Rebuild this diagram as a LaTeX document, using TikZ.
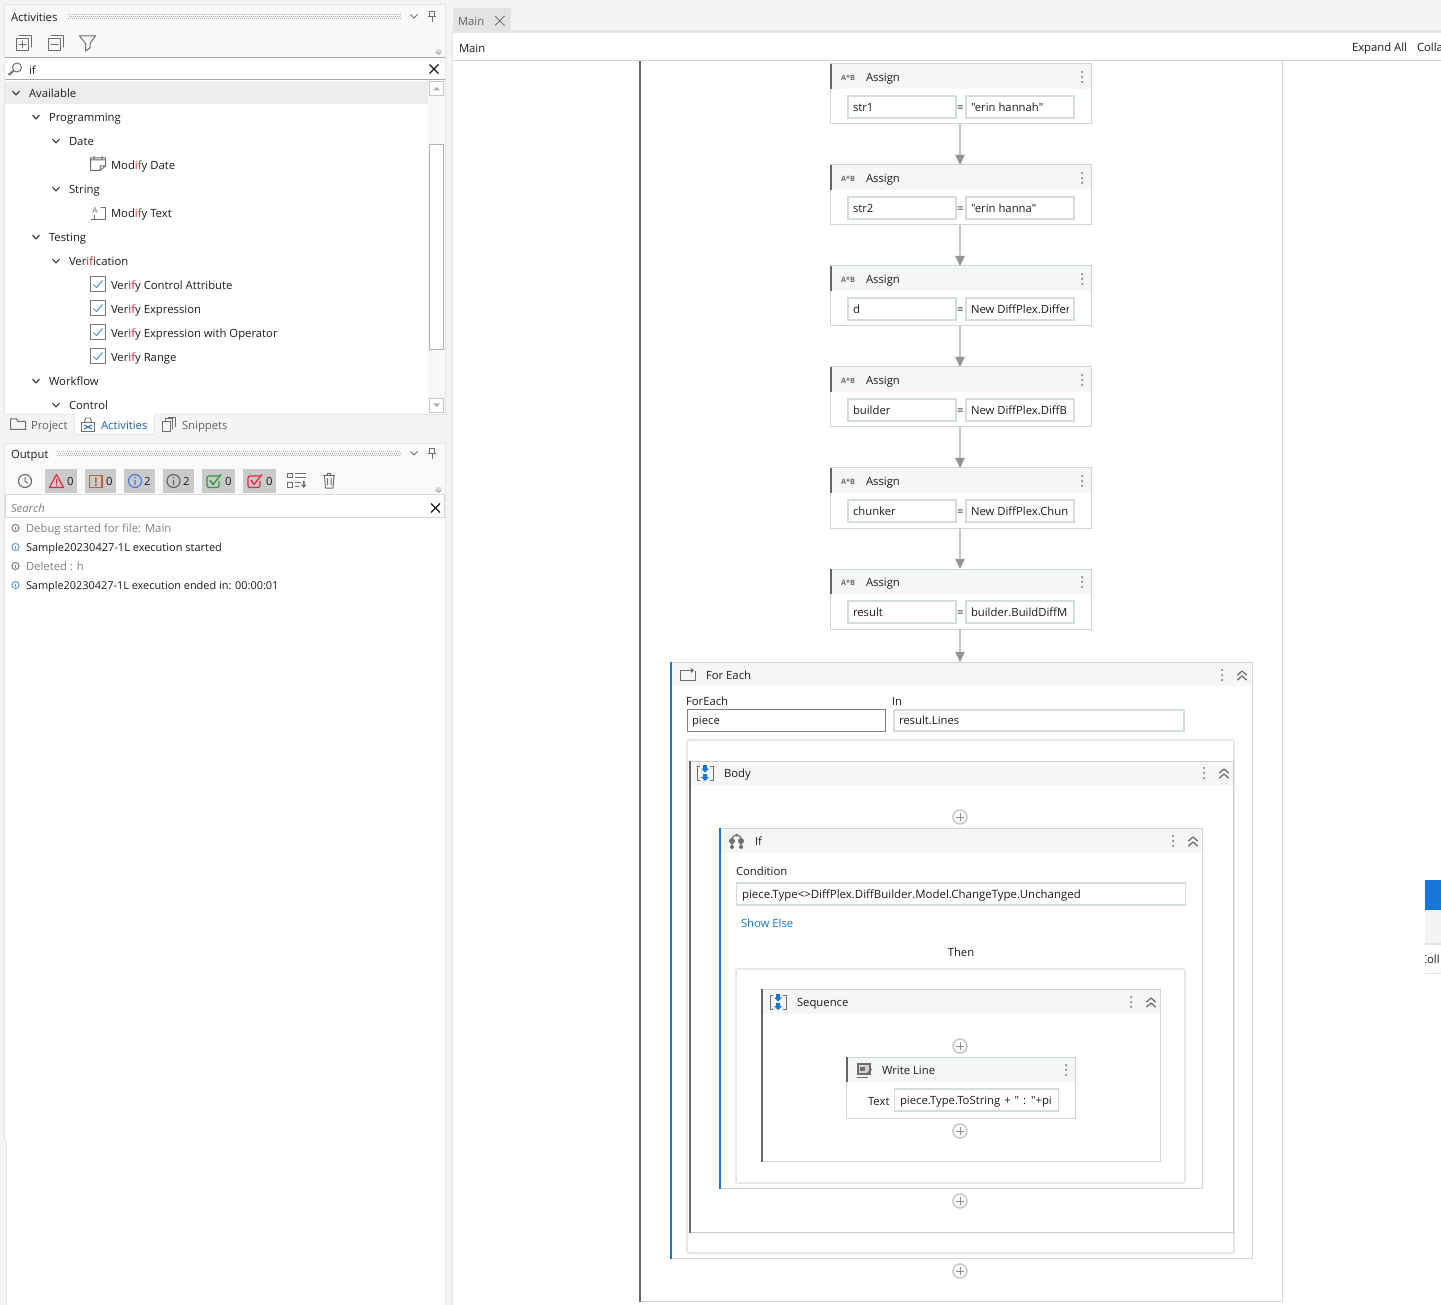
\documentclass[tikz,border=0pt]{standalone}
\usepackage{fontspec}
\setmainfont{Open Sans}
\newfontfamily\plainf{Open Sans}
\usetikzlibrary{arrows.meta}
\definecolor{panelbg}{HTML}{F3F5F5}
\definecolor{hdrbg}{HTML}{F5F6F6}
\definecolor{edge}{HTML}{CDD6DD}
\definecolor{fieldc}{HTML}{D3DCE1}
\definecolor{barD}{HTML}{666666}
\definecolor{barB}{HTML}{1976D2}
\definecolor{ink}{HTML}{1C1C1C}
\definecolor{iconG}{HTML}{6E6E6E}
\definecolor{ifred}{HTML}{C8202A}
\definecolor{rowbg}{HTML}{EDEDED}
\definecolor{badge}{HTML}{C9CACC}
\definecolor{linkB}{HTML}{1B74C9}
\definecolor{innerE}{HTML}{E5E7EA}
\definecolor{icRed}{HTML}{E6283F}
\definecolor{icOrange}{HTML}{B5672F}
\definecolor{icBlue}{HTML}{4A78DC}
\definecolor{icGreen}{HTML}{2F9A3A}
\tikzset{x=1pt,y=-1pt,
  t/.style={inner sep=0pt,outer sep=0pt,anchor=west,text=ink,font=\plainf\fontsize{11.3}{13}\selectfont,text height=8.5pt,text depth=2.5pt,yshift=-2.2pt},
  box/.style={draw=edge,line width=1pt,fill=white,inner sep=0pt,outer sep=0pt,anchor=north west},
  fieldbox/.style={draw=fieldc,line width=1.6pt,fill=white,inner sep=0pt,outer sep=0pt,anchor=north west},
  flow/.style={draw=black!22,line width=2pt,-{Triangle[length=10pt,width=9pt,color=black!42,fill=black!42]}},
  ico/.style={draw=iconG,line width=1pt,line join=round,line cap=round},
}
\newcommand\ifr{\textcolor{ifred}{if}}
\newcommand\kebab[2]{\fill[barD] (#1,#2-5) circle (1) (#1,#2) circle (1) (#1,#2+5) circle (1);}
\newcommand\dchev[2]{\draw[ico,line width=1.2pt,draw=barD] (#1-4.5,#2-1)--(#1,#2-5)--(#1+4.5,#2-1) (#1-4.5,#2+4)--(#1,#2)--(#1+4.5,#2+4);}
\newcommand\plusc[3]{\node[circle,draw=black!22,line width=1.5pt,minimum size=14pt,inner sep=0pt,outer sep=0pt] (#1) at (#2,#3) {};
  \draw[black!45,line width=1pt] (#2-4,#3)--(#2+4,#3) (#2,#3-4)--(#2,#3+4);}
\newcommand\chev[2]{\draw[draw=ink!85,line width=1.1pt] (#1-3.5,#2-1.8)--(#1,#2+1.8)--(#1+3.5,#2-1.8);}
\newcommand\assign[4]{%
 \begin{scope}[shift={(830,#2)}]
  \node[box,minimum width=261pt,minimum height=60pt] (#1) at (0,0) {};
  \fill[hdrbg] (0.5,0.5) rectangle (260.5,25);
  \fill[barD] (0,0) rectangle (1.6,25);
  \node[inner sep=0pt,outer sep=0pt,text=iconG,font=\plainf\fontsize{7.3}{8}\selectfont\bfseries] (#1ic) at (18,13.5) {A*B};
  \node[t] (#1tt) at (36,12) {Assign};
  \kebab{252}{13}
  \node[fieldbox,minimum width=108pt,minimum height=22pt] (#1v) at (18,32) {};
  \node[t] (#1vt) at (23,42) {#3};
  \node[t] (#1eq) at (127,42.5) {=};
  \node[fieldbox,minimum width=108pt,minimum height=22pt] (#1x) at (136,32) {};
  \begin{scope}
   \clip (137,33) rectangle (238.5,53);
   \node[t] (#1xt) at (141,42) {#4};
  \end{scope}
 \end{scope}}
\newcommand\seqicon[2]{\begin{scope}[shift={(#1,#2)}]
  \draw[iconG,line width=1pt] (-5,-7)--(-8,-7)--(-8,7)--(-5,7) (5,-7)--(8,-7)--(8,7)--(5,7);
  \fill[barB] (-2,-8)--(2,-8)--(2,-4.5)--(4,-4.5)--(0,-0.5)--(-4,-4.5)--(-2,-4.5)--cycle;
  \fill[barB] (-2,1)--(2,1)--(2,4)--(4,4)--(0,8)--(-4,4)--(-2,4)--cycle;
 \end{scope}}
\newcommand\checkbox[1]{\draw[draw=barD!90,line width=1.2pt] (90.5,#1-8.5) rectangle (105.5,#1+6.5);
  \draw[draw=barB!80!white,line width=1pt] (93.5,#1-0.5)--(96.5,#1+2.5)--(102.5,#1-4.5);}
\begin{document}
\begin{tikzpicture}
\useasboundingbox (0,0) rectangle (1441,1305);
\fill[white] (0,0) rectangle (1441,1305);
% ---------- left column
\fill[panelbg] (0,0) rectangle (453,1305);
\fill[white] (5,443) rectangle (445,1140);
\fill[white] (7,1140) rectangle (445,1305);
\draw[black!10,line width=1pt] (4.5,443)--(4.5,1140) (6.5,1140)--(6.5,1305) (445.5,443)--(445.5,1305);
% Activities panel
\fill[white] (5,5) rectangle (445,414);
\fill[black!1.5!panelbg!45!white] (5,5) rectangle (445,57);
\draw[black!10,line width=1pt] (4.5,4.5) rectangle (445.5,414.5);
\node[t] (acttitle) at (11,16) {Activities};
\foreach \yy/\s in {14.5/0,16.5/1,18.5/0}{\draw[black!32,line width=1pt,dash pattern=on 1pt off 1pt,dash phase=\s pt] (68,\yy)--(401,\yy);}
\draw[iconG,line width=1pt] (410.5,14.5)--(414,18)--(417.5,14.5);
\draw[iconG,line width=1pt] (429.5,11.5) rectangle (434.5,16.5) (428,17)--(436,17) (432,17)--(432,22);
% top toolbar icons
\draw[ico] (19,35.5)--(31.5,35.5)--(31.5,47) (16.5,38.5) rectangle (28.5,50.5) (22.5,41)--(22.5,48) (19,44.5)--(26,44.5);
\draw[ico] (51,35.5)--(63.5,35.5)--(63.5,47) (48.5,38.5) rectangle (60.5,50.5) (51,44.5)--(58,44.5);
\draw[ico] (79.5,36)--(95.5,36)--(90,43.5)--(90,48)--(85.5,51)--(85.5,43.5)--cycle;
\draw[black!35,line width=.8pt] (436,50)--(441,50) (436,52)--(441,52)--(438.5,54.5)--cycle;
% search
\fill[white] (5,57) rectangle (445,80);
\draw[black!35,line width=1pt] (5,57.5)--(445,57.5) (5,79.5)--(445,79.5);
\draw[iconG,line width=1pt] (17,67.5) circle (4.5);
\draw[iconG,line width=2pt] (13.5,71)--(8.5,75);
\node[t] (searchq) at (29,69) {if};
\draw[ink,line width=1.2pt] (429.5,64.5)--(438.5,73.5) (438.5,64.5)--(429.5,73.5);
% tree
\fill[rowbg] (5,81) rectangle (428,104);
\fill[panelbg!70!white] (428,81) rectangle (444.5,413);
\foreach \yb in {81.5,398.5}{\draw[black!22,fill=white,line width=1pt] (429.5,\yb) rectangle (443.5,\yb+14);}
\fill[black!32] (433,90.5)--(440,90.5)--(436.5,87)--cycle;
\fill[black!32] (433,403.5)--(440,403.5)--(436.5,407)--cycle;
\draw[black!30,fill=white,line width=1pt] (429.5,144.5) rectangle (443.5,349.5);
\chev{16}{93}\node[t] (tAvail) at (29,92) {Available};
\chev{36}{117}\node[t] (tProg) at (49,116) {Programming};
\chev{56}{141}\node[t] (tDate) at (69,140) {Date};
\draw[ico] (90.5,160)--(90.5,170.5)--(100,170.5)--(105.5,166)--(105.5,160)--cycle (90.5,160)--(90.5,158)--(105.5,158)--(105.5,160) (94,156.5)--(94,159) (102,156.5)--(102,159) (100,170.5)--(100,166)--(105.5,166);
\node[t] (tMD) at (111,164) {Mod\ifr y Date};
\chev{56}{189}\node[t] (tStr) at (69,188) {String};
\draw[ico,line width=.8pt] (101,207.5)--(105.5,207.5)--(105.5,219.5)--(94,219.5)--(94,215) (91,219.5)--(94,219.5);
\node[inner sep=0pt,text=iconG,font=\plainf\fontsize{8.5}{9}\selectfont] (tMTi) at (95,210) {A};
\node[t] (tMT) at (111,212) {Mod\ifr y Text};
\chev{36}{237}\node[t] (tTest) at (49,236) {Testing};
\chev{56}{261}\node[t] (tVer) at (69,260) {Ver\ifr ication};
\checkbox{285}\node[t] (tV1) at (111,284) {Ver\ifr y Control Attribute};
\checkbox{309}\node[t] (tV2) at (111,308) {Ver\ifr y Expression};
\checkbox{333}\node[t] (tV3) at (111,332) {Ver\ifr y Expression with Operator};
\checkbox{357}\node[t] (tV4) at (111,356) {Ver\ifr y Range};
\chev{36}{381}\node[t] (tWork) at (49,380) {Workflow};
\chev{56}{405}\begin{scope}\clip (5,395) rectangle (428,413.5);\node[t] (tCtl) at (69,404) {Control};\end{scope}
% tabs
\fill[white] (75,414.5) rectangle (155,434);
\draw[black!10,line width=1pt] (74.5,415)--(74.5,434.5)--(154.5,434.5)--(154.5,415);
\draw[iconG,line width=1pt] (10.5,420.5)--(10.5,429.5)--(25.5,429.5)--(25.5,421.5)--(18,421.5)--(16.5,419)--(10.5,419)--cycle;
\node[t,text=black!62] (tabP) at (31,424) {Project};
\draw[ico,line width=.9pt] (81.5,422.5) rectangle (94.5,431.5) (84.5,422.5)--(85.5,418)--(90.5,418)--(91.5,422.5);
\draw[barB,line width=.9pt] (84,425)--(92,429) (84,429)--(92,425);
\node[t,text=linkB!85!black] (tabA) at (101,424) {Activities};
\draw[ico,line width=.8pt] (162.5,421) rectangle (170,431.5) (165,421)--(165,418.5)--(172.5,418.5)--(172.5,429) (168,418.5)--(168,417)--(175.5,417)--(175.5,427);
\node[t,text=black!62] (tabS) at (182,424) {Snippets};
% Output panel
\fill[panelbg!45!white] (5,443) rectangle (445,495);
\draw[black!10,line width=1pt] (4.5,443.5)--(445.5,443.5);
\node[t] (outtitle) at (11,453) {Output};
\foreach \yy/\s in {451.5/0,453.5/1,455.5/0}{\draw[black!32,line width=1pt,dash pattern=on 1pt off 1pt,dash phase=\s pt] (57,\yy)--(401,\yy);}
\draw[iconG,line width=1pt] (410.5,451.5)--(414,455)--(417.5,451.5);
\draw[iconG,line width=1pt] (429.5,448.5) rectangle (434.5,453.5) (428,454)--(436,454) (432,454)--(432,459);
\draw[iconG,line width=1.2pt] (25,481) circle (6.5);
\draw[iconG,line width=1pt] (25,477)--(25,481.5)--(28,483);
\foreach \a/\b in {45/77,85/116,124/155,163/194,202/235,243/276}{\fill[badge] (\a,469) rectangle (\b,493);}
\draw[draw=icRed,line width=1.2pt,line join=round] (56.5,474.5)--(63.5,487.5)--(49.5,487.5)--cycle;
\fill[icRed] (56,479) rectangle (57,483.5) (56,484.5) rectangle (57,486);
\draw[draw=icOrange,line width=1.2pt] (89.5,475.5) rectangle (102,487.5);
\fill[icOrange] (95.2,477.5) rectangle (96.5,483) (95.2,484.2) rectangle (96.5,486);
\draw[draw=icBlue,line width=1.2pt] (135,481) circle (6.5);
\fill[icBlue] (134.3,480) rectangle (135.7,485) (134.3,477) rectangle (135.7,478.5);
\draw[draw=barD,line width=1.2pt] (173.5,481) circle (6.5);
\fill[barD] (172.8,480) rectangle (174.2,485) (172.8,477) rectangle (174.2,478.5);
\draw[draw=icGreen,line width=1.2pt,rounded corners=2pt] (219,476)--(207,476)--(207,487.5)--(219,487.5)--(219,481);
\draw[draw=icGreen,line width=1.4pt] (210,480)--(213,484.5)--(221,474.5);
\draw[draw=icRed,line width=1.2pt,rounded corners=2pt] (260,476)--(248,476)--(248,487.5)--(260,487.5)--(260,481);
\draw[draw=icRed,line width=1.4pt] (251,480)--(254,484.5)--(262,474.5);
\foreach \xx/\nn/\id in {67/0/a,106/0/b,144/2/c,183/2/d,225/0/e,266/0/f}{\node[t] (cnt\id) at (\xx,480) {\nn};}
\draw[iconG,line width=1pt] (287.5,473.5) rectangle (292,478) (287.5,482.5) rectangle (292,487);
\draw[iconG,line width=1pt] (295,473.5)--(306,473.5) (295,478)--(306,478) (295,482.5)--(301,482.5) (295,486.5)--(299,486.5);
\fill[barD] (303,481) rectangle (304.5,485) (301,484.5)--(306.5,484.5)--(303.7,488)--cycle;
\draw[ico] (323.5,475.5)--(334.5,475.5) (327,475.5)--(327.5,473.5)--(330.5,473.5)--(331,475.5) (324.5,475.5)--(325.5,488)--(333,488)--(334,475.5) (327.5,478.5)--(327.5,485) (331,478.5)--(331,485);
\draw[black!35,line width=.8pt] (436,488)--(441,488) (436,490)--(441,490)--(438.5,492.5)--cycle;
\draw[black!15,fill=white,line width=1pt] (5.5,494.5) rectangle (444.5,517.5);
\node[t,text=black!50,font=\plainf\fontsize{11.3}{13}\selectfont\itshape] (outsearch) at (11,507) {Search};
\draw[ink,line width=1.2pt] (431,503.5)--(440,512.5) (440,503.5)--(431,512.5);
\foreach \yy/\cc/\id/\tx in {527/black!50/a/{Debug started for file: Main},546/ink/b/{\fontsize{11}{13}\selectfont Sample20230427-1L execution started},565/black!50/c/{Deleted : h},584/ink/d/{\fontsize{10.9}{13}\selectfont Sample20230427-1L execution ended in: 00:00:01}}{
  \node[t,text=\cc] (msg\id) at (26,\yy) {\tx};
}
\foreach \yy/\cc in {528/black!50,547/barB!70!white,566/black!50,585/barB!70!white}{
  \draw[draw=\cc,line width=1pt] (15.5,\yy) circle (3.6);
  \fill[\cc] (15,\yy-1) rectangle (16,\yy+2);
}
% ---------- main column
\fill[panelbg] (453,0) rectangle (1441,30);
\fill[black!10] (453,30) rectangle (1441,33);
\fill[black!11] (453,8) rectangle (511,30);
\node[t,text=black!62] (tabMain) at (458,20) {Main};
\draw[black!55,line width=1pt] (495,16)--(504.5,25.5) (504.5,16)--(495,25.5);
\node[t] (crumb) at (459,47) {Main};
\node[t] (expAll) at (1352,46) {Expand All};
\begin{scope}\clip (1410,35) rectangle (1441,58);\node[t] (collA) at (1417,46) {Colla};\end{scope}
\draw[edge,line width=1pt] (453,60.5)--(1441,60.5);
\fill[black!10] (452,30) rectangle (453,1305);
% outer sequence frame
\draw[edge,line width=1pt] (641,1301.5)--(1282.5,1301.5)--(1282.5,61);
\fill[barD] (639,61) rectangle (641,1302);
% assigns
\assign{aA}{64}{str1}{"erin hannah"}
\assign{aB}{165}{str2}{"erin hanna"}
\assign{aC}{266}{d}{New DiffPlex.Differ}
\assign{aD}{367}{builder}{New DiffPlex.DiffB}
\assign{aE}{468}{chunker}{New DiffPlex.Chun}
\assign{aF}{569}{result}{builder.BuildDiffM}
% For Each
\node[box,minimum width=582pt,minimum height=596pt] (fe) at (670,662) {};
\fill[hdrbg] (671,662.5) rectangle (1251.5,686);
\fill[barB] (670,662) rectangle (672,1258.5);
\draw[iconG,line width=1pt] (692,670.5)--(680.5,670.5)--(680.5,680.5)--(695.5,680.5)--(695.5,671);
\fill[iconG] (691,668)--(691,673)--(694,670.5)--cycle;
\node[t] (fetitle) at (706,674) {For Each};
\kebab{1222}{675}\dchev{1242}{676}
\node[t] (felab) at (686,700) {ForEach};
\node[t] (inlab) at (892,700.5) {In};
\node[draw=black!50,line width=1pt,fill=white,inner sep=0pt,outer sep=0pt,anchor=north west,minimum width=198pt,minimum height=22pt] (fevar) at (687.5,709.5) {};
\node[t] (fevart) at (692,719) {piece};
\node[fieldbox,minimum width=290pt,minimum height=21pt] (fein) at (894,710) {};
\node[t] (feint) at (899,719) {result.Lines};
\node[draw=innerE,line width=1.8pt,rounded corners=2pt,fill=white,inner sep=0pt,outer sep=0pt,anchor=north west,minimum width=547pt,minimum height=513pt] (bodyc) at (687,740) {};
% Body
\node[box,draw=black!20,minimum width=544.5pt,minimum height=471pt] (body) at (689,761) {};
\fill[hdrbg] (690,761.5) rectangle (1233,785);
\fill[barD] (689,761) rectangle (691,1232.5);
\seqicon{705}{773}
\node[t] (bodyt) at (724,772) {Body};
\kebab{1204}{773}\dchev{1224}{774}
\plusc{pA}{960}{817}
% If
\node[box,minimum width=483pt,minimum height=360pt] (ifb) at (719.5,828.5) {};
\fill[hdrbg] (721,829) rectangle (1202,853);
\fill[barB] (719,828) rectangle (721,1189);
\draw[iconG,line width=1.2pt] (732,838)--(732,846) (741,838)--(741,846) (732,838)..controls (733,834.5) and (740,834.5)..(741,838);
\fill[iconG] (732,841) circle (3) (741,841) circle (3) (732,847) circle (2) (741,847) circle (2) (736.5,835) circle (1.5);
\node[t] (ift) at (755,840) {If};
\kebab{1173}{841}\dchev{1193}{842}
\node[t] (condl) at (736,870) {Condition};
\node[fieldbox,minimum width=449pt,minimum height=22pt] (cond) at (736.5,883) {};
\node[t,font=\plainf\fontsize{11.45}{13}\selectfont] (condt) at (742,893) {piece.Type<>DiffPlex.DiffBuilder.Model.ChangeType.Unchanged};
\node[t,text=linkB] (showelse) at (741,922) {Show Else};
\node[t,anchor=center] (thenl) at (961,951) {Then};
\node[draw=innerE,line width=1.8pt,rounded corners=2pt,fill=white,inner sep=0pt,outer sep=0pt,anchor=north west,minimum width=449pt,minimum height=214pt] (thenc) at (736,969) {};
% Sequence
\node[box,minimum width=399pt,minimum height=172pt] (seq) at (761.5,989.5) {};
\fill[hdrbg] (763,990) rectangle (1160,1014);
\fill[barD] (761,989) rectangle (763,1162);
\seqicon{778}{1002}
\node[t] (seqt) at (797,1001) {Sequence};
\kebab{1131}{1002}\dchev{1151}{1003}
\plusc{pB}{960}{1046}
% Write Line
\node[box,minimum width=229pt,minimum height=61pt] (wl) at (846.5,1057.5) {};
\fill[hdrbg] (848,1058) rectangle (1075,1082);
\fill[barD] (846,1057) rectangle (848,1082);
\fill[iconG] (856.5,1063) rectangle (870.5,1075);
\fill[white!70!iconG] (858.5,1065) rectangle (868.5,1073);
\fill[iconG] (860,1067) rectangle (865,1071);
\draw[iconG,line width=1pt] (857,1077)--(868,1077);
\draw[iconG,line width=1.6pt] (866,1075)--(871.5,1069);
\node[t] (wlt) at (882,1069) {Write Line};
\kebab{1066}{1070}
\node[t] (wlx) at (868,1100) {Text};
\node[fieldbox,minimum width=164pt,minimum height=22pt] (wlf) at (894.5,1089) {};
\begin{scope}\clip (895,1090) rectangle (1053,1111);\node[t] (wlft) at (900,1099) {piece.Type.ToString\kern1pt{} +\kern1pt{} "\kern1pt{} :\kern1pt{} "+pi};\end{scope}
\plusc{pC}{960}{1131}
\plusc{pD}{960}{1201}
\plusc{pE}{960}{1271}
% connectors
\foreach \a/\b in {aA/aB,aB/aC,aC/aD,aD/aE,aE/aF,aF/fe}{
  \draw[flow] ([xshift=-.5pt]\a.south) -- ([xshift=-.5pt]\a.south |- \b.north);
}
% right scrap
\fill[barB] (1425,880) rectangle (1441,910);
\fill[panelbg] (1425,910) rectangle (1441,943);
\fill[black!11] (1425,943) rectangle (1441,945);
\begin{scope}\clip (1425,946) rectangle (1441,972);\node[t] (collB) at (1420,958.5) {Coll};\end{scope}
\fill[black!12] (1425,972.5) rectangle (1441,974);
\end{tikzpicture}
\end{document}
